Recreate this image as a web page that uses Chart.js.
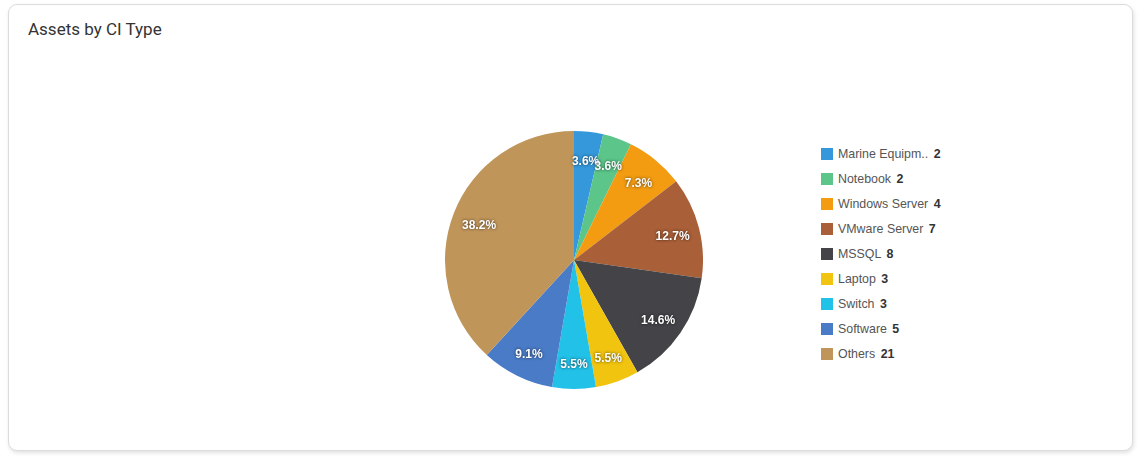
<!DOCTYPE html>
<html>
<head>
<meta charset="utf-8">
<script src="https://cdn.jsdelivr.net/npm/chart.js@4"></script>
<style>
  html, body { margin: 0; padding: 0; background: #fff; }
  body { width: 1140px; height: 463px; position: relative; overflow: hidden; }
  .card {
    position: absolute; left: 8px; top: 4px; width: 1123px; height: 445px;
    border: 1px solid #dcdcdc; border-radius: 9px; background: #fff;
    box-shadow: 1px 2px 4px rgba(0,0,0,0.12);
  }
  .title {
    position: absolute; left: 19px; top: 14px;
    font-family: Roboto, "Noto Sans", sans-serif; font-size: 17px; color: #333;
  }
  .pie { position: absolute; left: 436px; top: 126px; width: 258px; height: 258px; }
  .legend {
    position: absolute; left: 812px; top: 137px;
    font-family: "Liberation Sans", Arial, sans-serif; font-size: 12.4px; color: #555;
  }
  .legend .item { height: 25px; line-height: 25px; white-space: nowrap; }
  .legend .box { display: inline-block; width: 12px; height: 12px; vertical-align: -2px; margin-right: 5px; }
  .legend b { color: #333; margin-left: 2px; }
</style>
</head>
<body>
<div class="card">
  <div class="title">Assets by CI Type</div>
  <div class="pie"><canvas id="c"></canvas></div>
  <div class="legend" id="legend"></div>
</div>
<script>
const labels = ["Marine Equipm..", "Notebook", "Windows Server", "VMware Server", "MSSQL", "Laptop", "Switch", "Software", "Others"];
const counts = [2, 2, 4, 7, 8, 3, 3, 5, 21];
const colors = ["#3498db", "#5bc58a", "#f39c12", "#a95f37", "#434348", "#f1c40f", "#22c1e8", "#4a7bc7", "#c0955a"];

const total = counts.reduce((a, b) => a + b, 0);

// legend as html so the count can be bold
const legend = document.getElementById('legend');
labels.forEach((l, i) => {
  const d = document.createElement('div');
  d.className = 'item';
  d.innerHTML = '<span class="box" style="background:' + colors[i] + '"></span>' + l + ' <b>' + counts[i] + '</b>';
  legend.appendChild(d);
});

// percent rounded to 2 places then 1, like the original (8/55 -> 14.6)
function pct(v) {
  const p2 = Math.round(v / total * 10000) / 100;
  return (Math.round(p2 * 10) / 10).toFixed(1) + '%';
}

const pctLabels = {
  id: 'pctLabels',
  afterDatasetsDraw(chart) {
    const ctx = chart.ctx;
    const meta = chart.getDatasetMeta(0);
    ctx.save();
    ctx.font = 'bold 12px "Liberation Sans", Arial, sans-serif';
    ctx.fillStyle = '#fff';
    ctx.textAlign = 'center';
    ctx.textBaseline = 'middle';
    ctx.shadowColor = 'rgba(0,0,0,0.7)';
    ctx.shadowBlur = 3;
    meta.data.forEach((arc, i) => {
      const a = (arc.startAngle + arc.endAngle) / 2;
      const r = arc.outerRadius * 0.79;
      const x = arc.x + Math.cos(a) * r;
      const y = arc.y + Math.sin(a) * r + 3;
      ctx.fillText(pct(counts[i]), x, y);
    });
    ctx.restore();
  }
};

new Chart(document.getElementById('c'), {
  type: 'pie',
  data: {
    labels: labels,
    datasets: [{ data: counts, backgroundColor: colors, borderWidth: 0 }]
  },
  options: {
    responsive: true,
    maintainAspectRatio: false,
    animation: false,
    layout: { padding: 0 },
    plugins: { legend: { display: false }, tooltip: { enabled: false } }
  },
  plugins: [pctLabels]
});
</script>
</body>
</html>
